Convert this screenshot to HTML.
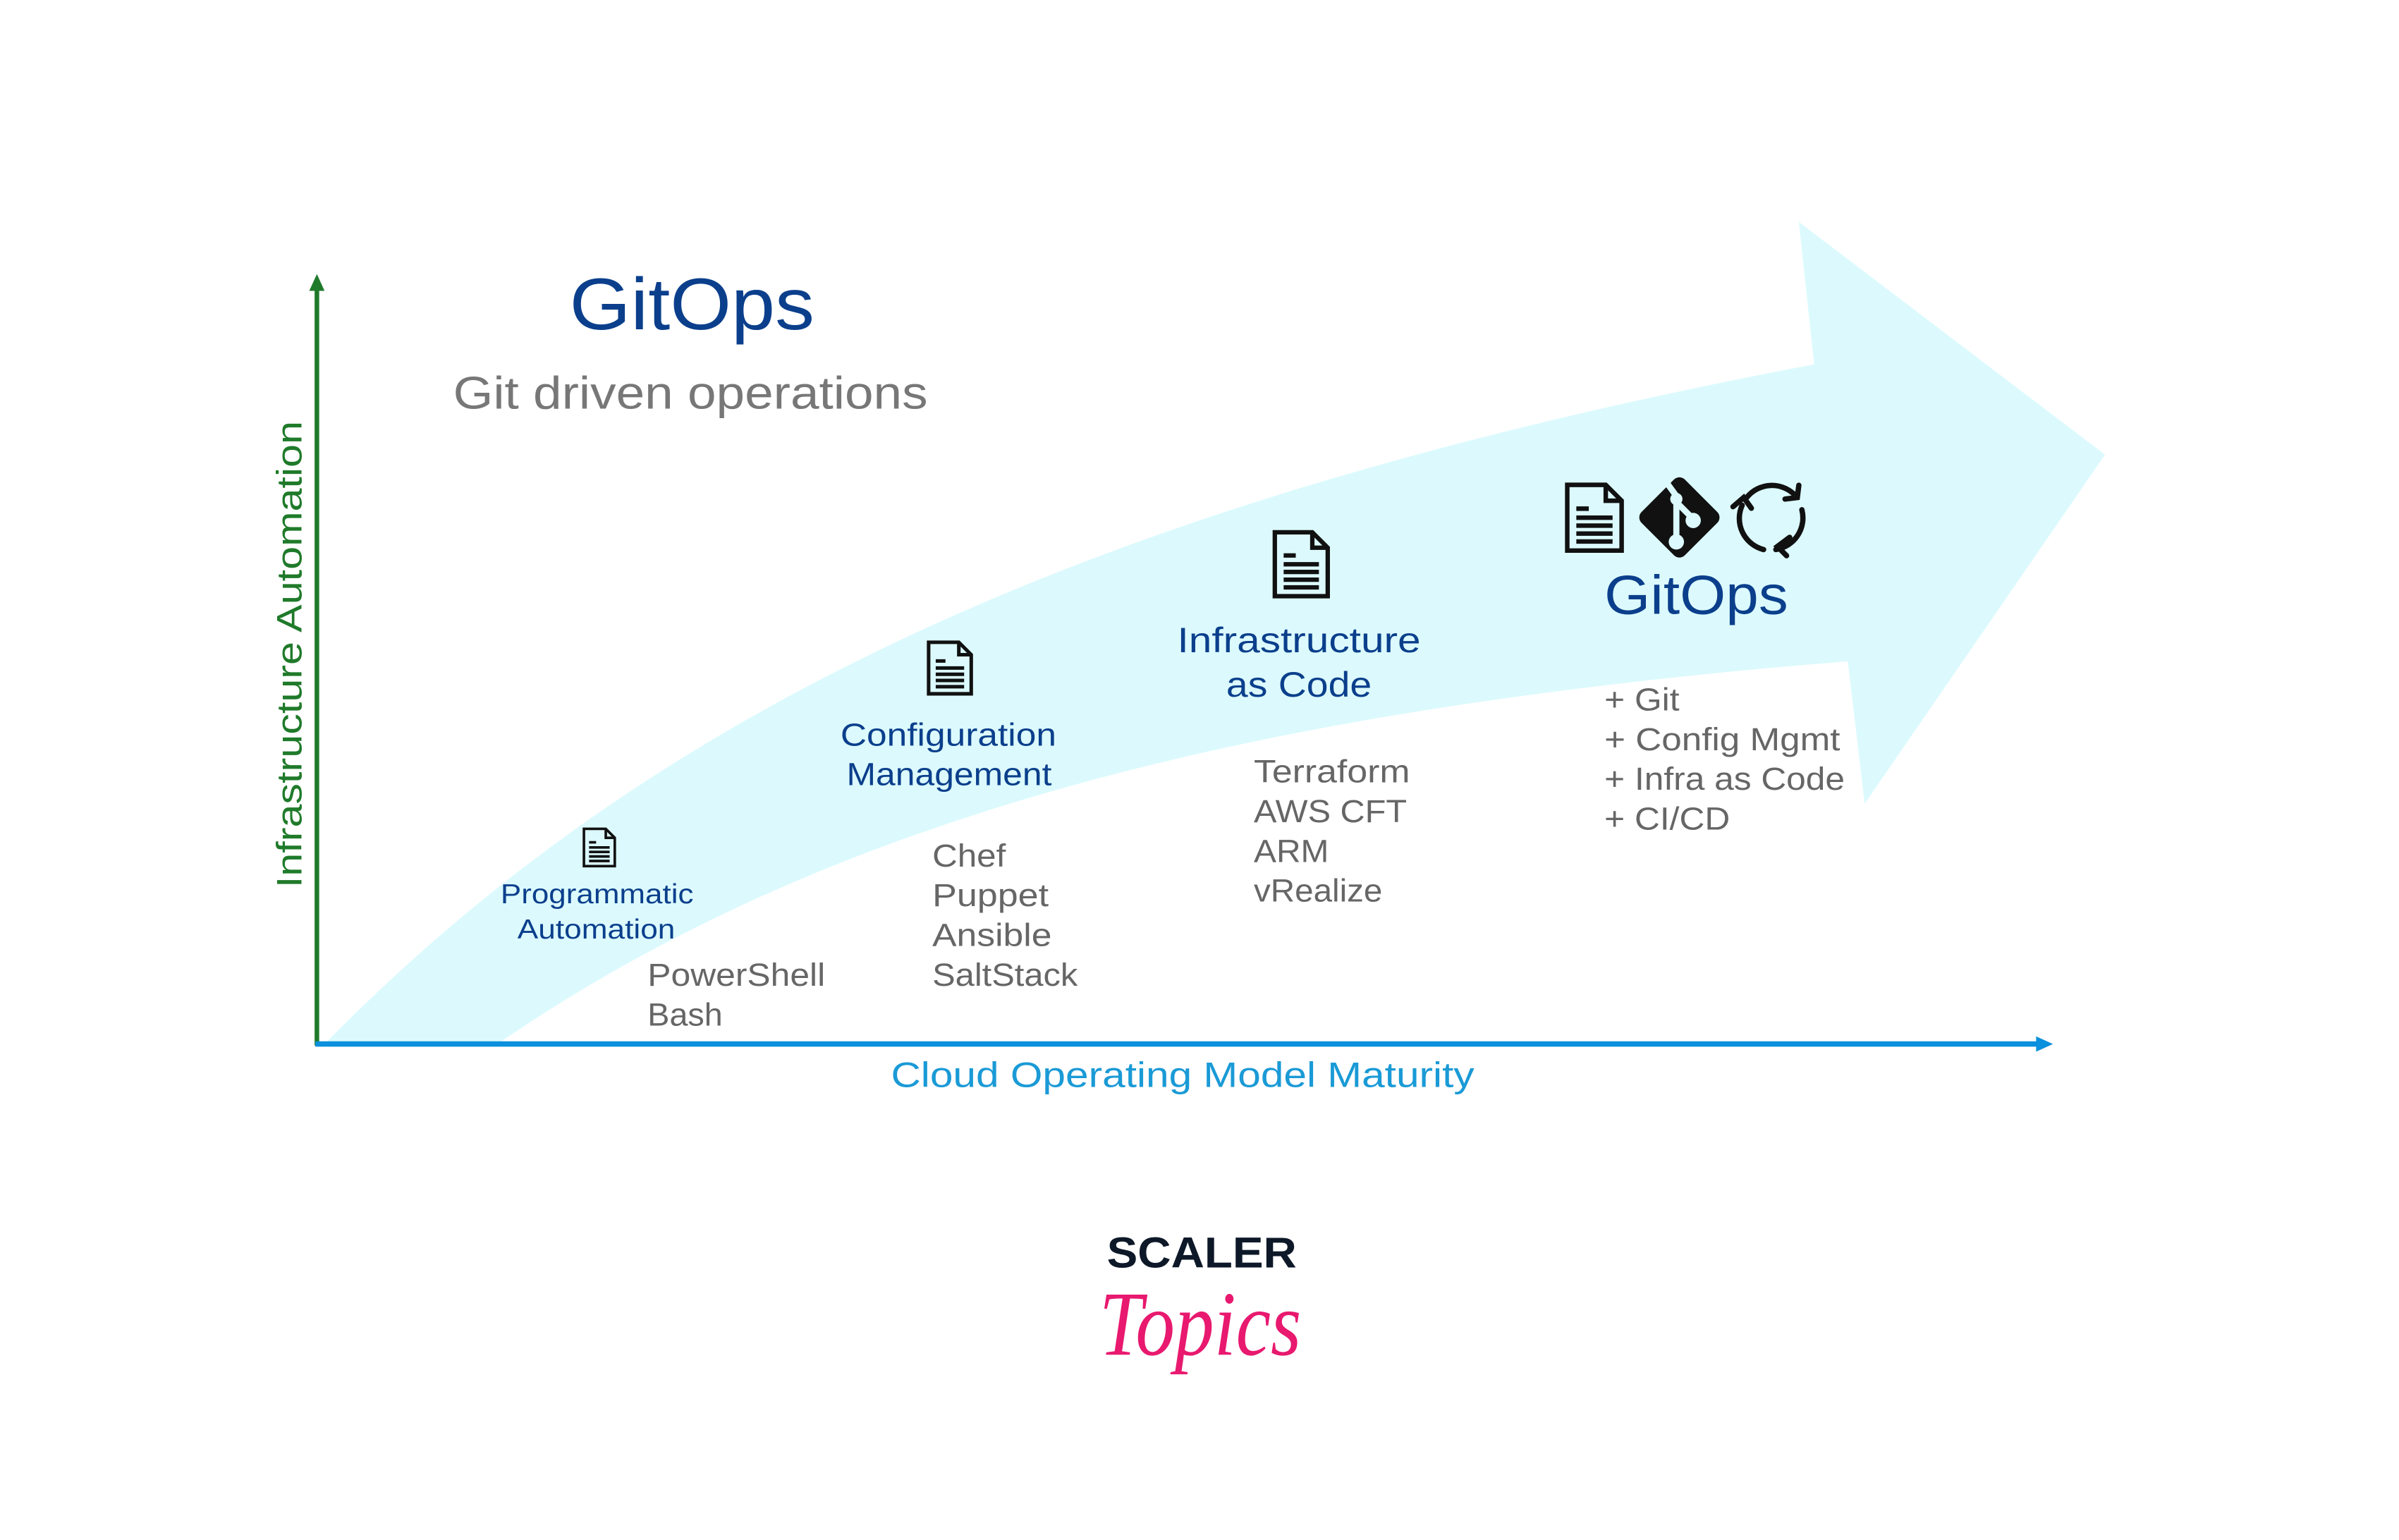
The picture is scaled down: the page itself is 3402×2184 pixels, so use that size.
<!DOCTYPE html>
<html><head><meta charset="utf-8"><style>html,body{margin:0;padding:0;background:#fff}svg{display:block}</style></head>
<body>
<svg width="3402" height="2184" viewBox="0 0 1567 1006" preserveAspectRatio="xMinYMin meet" xmlns="http://www.w3.org/2000/svg" font-family="Liberation Sans, sans-serif">
<rect width="1567" height="1006" fill="#fff"/>
<path d="M212,682 C420,470 700,330 1185,238 L1175,145 L1375,297 L1218,525 L1207,432 C860,460 560,520 325,682 Z" fill="#dcfafd"/>
<line x1="207" y1="683" x2="207" y2="188" stroke="#1f7a2a" stroke-width="3"/>
<polygon points="207,179 202,190 212,190" fill="#1f7a2a"/>
<line x1="206" y1="682" x2="1332" y2="682" stroke="#0a90dc" stroke-width="3.5"/>
<polygon points="1341,682 1330,677 1330,687" fill="#0a90dc"/>
<g lengthAdjust="spacingAndGlyphs">
<text x="372" y="215" font-size="48" fill="#0b3f8c" textLength="160" lengthAdjust="spacingAndGlyphs">GitOps</text>
<text x="296" y="267" font-size="30" fill="#777" textLength="310" lengthAdjust="spacingAndGlyphs">Git driven operations</text>
<text transform="translate(197,580) rotate(-90)" font-size="23" fill="#1f7a2a" textLength="305" lengthAdjust="spacingAndGlyphs">Infrastructure Automation</text>
<text x="582" y="710" font-size="23" fill="#1a9ad6" textLength="381" lengthAdjust="spacingAndGlyphs">Cloud Operating Model Maturity</text>
</g>
<g fill="none" stroke="#111" stroke-width="1.6">
<g transform="translate(381,541) scale(0.42)"><path d="M1,1 H35 L49,15 V59 H1 Z M35,1 V15 H49" stroke-width="4"/><path d="M9,22 H20 M9,30 H41 M9,37 H41 M9,44 H41 M9,51 H41" stroke-width="4"/></g>
<g transform="translate(606,419) scale(0.58)"><path d="M1,1 H35 L49,15 V59 H1 Z M35,1 V15 H49" stroke-width="4"/><path d="M9,22 H20 M9,30 H41 M9,37 H41 M9,44 H41 M9,51 H41" stroke-width="4"/></g>
<g transform="translate(832,347) scale(0.72)"><path d="M1,1 H35 L49,15 V59 H1 Z M35,1 V15 H49" stroke-width="4"/><path d="M9,22 H20 M9,30 H41 M9,37 H41 M9,44 H41 M9,51 H41" stroke-width="4"/></g>
<g transform="translate(1023,316) scale(0.74)"><path d="M1,1 H35 L49,15 V59 H1 Z M35,1 V15 H49" stroke-width="4"/><path d="M9,22 H20 M9,30 H41 M9,37 H41 M9,44 H41 M9,51 H41" stroke-width="4"/></g>
</g>
<g transform="translate(1097,338)">
<rect x="-20" y="-20" width="40" height="40" rx="5" transform="rotate(45)" fill="#111"/>
<path d="M-10,-25 L-2,-14 V14 M-2,-10 L8,0" stroke="#dcfafd" stroke-width="4" fill="none"/>
<circle cx="-2" cy="16" r="5" fill="#dcfafd"/><circle cx="9" cy="2" r="5" fill="#dcfafd"/><circle cx="-2" cy="-12" r="4" fill="#dcfafd"/>
</g>
<g transform="translate(1156,338)" fill="none" stroke="#111" stroke-width="3.5" stroke-linecap="round">
<path d="M-15,-13 A21,21 0 0 1 17,-14"/><path d="M10,-12 L18,-13 L19,-21"/>
<path d="M21,-5 A21,21 0 0 1 4,21"/><path d="M13,13 L5,19 L11,25"/>
<path d="M-4,21 A21,21 0 0 1 -18,-8"/><path d="M-24,-7 L-17,-13 L-12,-6"/>
</g>
<g fill="#0b3f8c">
<text x="327" y="590" font-size="18" textLength="126" lengthAdjust="spacingAndGlyphs">Programmatic</text>
<text x="338" y="613" font-size="18" textLength="103" lengthAdjust="spacingAndGlyphs">Automation</text>
<text x="549" y="487" font-size="21" textLength="141" lengthAdjust="spacingAndGlyphs">Configuration</text>
<text x="553" y="513" font-size="21" textLength="134" lengthAdjust="spacingAndGlyphs">Management</text>
<text x="769" y="426" font-size="23" textLength="159" lengthAdjust="spacingAndGlyphs">Infrastructure</text>
<text x="801" y="455" font-size="23" textLength="95" lengthAdjust="spacingAndGlyphs">as Code</text>
<text x="1048" y="401" font-size="36" textLength="120" lengthAdjust="spacingAndGlyphs">GitOps</text>
</g>
<g fill="#666" font-size="21">
<text x="423" y="644" textLength="116" lengthAdjust="spacingAndGlyphs">PowerShell</text><text x="423" y="670" textLength="49" lengthAdjust="spacingAndGlyphs">Bash</text>
<text x="609" y="566" textLength="48" lengthAdjust="spacingAndGlyphs">Chef</text><text x="609" y="592" textLength="76" lengthAdjust="spacingAndGlyphs">Puppet</text><text x="609" y="618" textLength="78" lengthAdjust="spacingAndGlyphs">Ansible</text><text x="609" y="644" textLength="95" lengthAdjust="spacingAndGlyphs">SaltStack</text>
<text x="819" y="511" textLength="102" lengthAdjust="spacingAndGlyphs">Terraform</text><text x="819" y="537" textLength="100" lengthAdjust="spacingAndGlyphs">AWS CFT</text><text x="819" y="563" textLength="49" lengthAdjust="spacingAndGlyphs">ARM</text><text x="819" y="589" textLength="84" lengthAdjust="spacingAndGlyphs">vRealize</text>
<text x="1048" y="464" textLength="49" lengthAdjust="spacingAndGlyphs">+ Git</text><text x="1048" y="490" textLength="154" lengthAdjust="spacingAndGlyphs">+ Config Mgmt</text><text x="1048" y="516" textLength="157" lengthAdjust="spacingAndGlyphs">+ Infra as Code</text><text x="1048" y="542" textLength="82" lengthAdjust="spacingAndGlyphs">+ CI/CD</text>
</g>
<text x="723" y="828" font-size="28" font-weight="bold" fill="#0d1828" textLength="124" lengthAdjust="spacingAndGlyphs">SCALER</text>
<text x="718" y="885" font-size="60" font-style="italic" fill="#e8196f" font-family="Liberation Serif, serif" textLength="132" lengthAdjust="spacingAndGlyphs">Topics</text>
</svg>
</body></html>
